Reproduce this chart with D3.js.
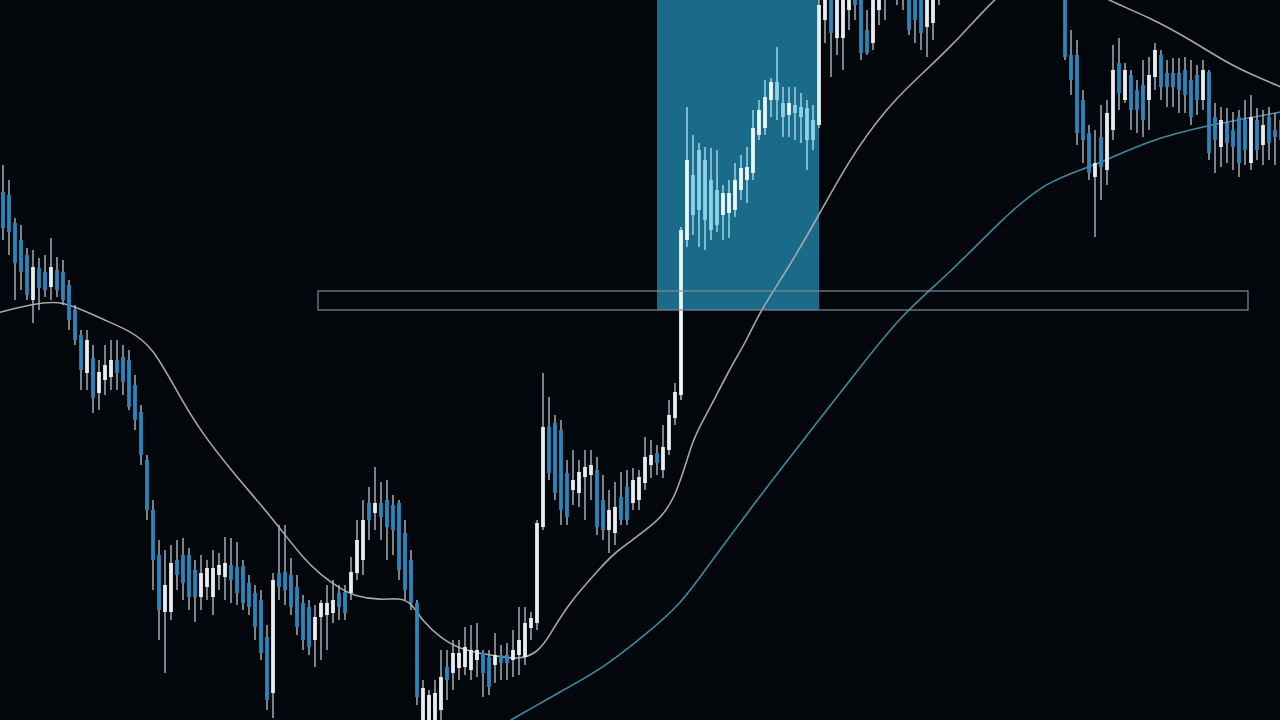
<!DOCTYPE html>
<html>
<head>
<meta charset="utf-8">
<script src="https://cdn.jsdelivr.net/npm/d3@7"></script>
<style>
  html, body { margin: 0; padding: 0; background: #03070b; overflow: hidden; }
  svg { display: block; }
</style>
</head>
<body>
<svg id="chart" width="1280" height="720"></svg>
<script>
// ---- Data (prices) ----
const opens = [
  808,805,777,760,745,700,732,728,713,730,
  728,715,690,665,627,642,607,620,623,640,
  643,640,615,588,540,490,445,388,388,440,
  445,445,430,403,413,403,425,423,435,433,
  434,417,407,400,363,307,427,428,425,413,
  397,393,360,383,385,387,407,408,407,427,
  440,497,487,497,500,495,497,467,440,397,
  275,270,280,290,333,327,332,333,330,340,
  347,343,335,345,345,340,345,343,372,377,
  473,573,577,570,527,510,507,523,525,530,
  500,470,467,503,513,497,500,517,535,547,
  530,550,582,605,760,825,850,840,820,810,
  785,787,790,810,820,827,865,872,900,918,
  897,885,895,893,892,880,875,980,1010,962,
  962,990,1020,1010,970,957,990,1030,1020,1040,
  1015,1005,1000,1000,973,977,1005,1015,1040,1060,
  1055,1085,1100,1095,1110,1080,1070,1085,1060,1045,
  1060,1050,1035,1050,1045,1030,1045,1020,945,945,
  900,867,823,863,830,870,937,900,925,910,
  915,900,923,945,927,927,927,930,920,925,
  900,928,883,853,877,870,883,880,837,880,
  855,883,870,880
];
const highs = [
  835,820,782,775,752,750,742,745,762,743,
  740,720,695,670,670,655,640,655,660,660,
  655,650,625,595,545,500,460,450,455,460,
  462,452,440,445,440,450,447,463,462,458,
  440,425,415,410,375,427,475,475,442,425,
  405,400,395,400,415,420,415,415,443,480,
  500,513,533,518,520,505,500,480,450,400,
  320,310,320,350,350,360,360,373,375,377,
  350,350,367,355,357,370,393,393,388,480,
  627,603,585,580,540,550,540,550,550,543,
  525,510,518,528,530,532,530,563,560,555,
  575,600,617,773,893,865,857,853,852,850,
  815,820,837,845,853,890,900,920,922,953,
  913,913,913,907,900,895,1000,1010,1020,1015,
  1010,1040,1030,1020,990,1010,1030,1040,1060,1050,
  1050,1015,1010,1010,1010,1020,1040,1055,1080,1075,
  1100,1120,1115,1130,1125,1095,1105,1100,1070,1080,
  1075,1060,1065,1060,1055,1060,1055,1030,970,960,
  910,875,870,895,900,955,962,937,930,920,
  940,943,957,950,940,942,942,943,940,935,
  940,930,897,893,892,888,890,900,905,892,
  890,893,887,890
];
const lows = [
  760,745,700,710,700,677,690,703,700,703,
  695,670,655,610,610,587,590,605,610,610,
  605,590,570,535,480,410,360,327,380,410,
  400,390,378,390,400,385,410,400,397,395,
  390,385,360,340,290,282,400,395,385,365,
  350,345,333,340,350,377,380,380,400,420,
  425,460,470,460,440,445,420,400,390,295,
  265,260,270,280,300,310,320,325,320,323,
  303,305,317,320,320,323,325,335,360,370,
  470,520,500,475,475,495,493,480,500,465,
  460,447,455,475,475,490,490,510,522,525,
  522,545,575,600,753,765,753,750,760,768,
  760,762,783,800,797,820,860,865,883,880,
  863,863,860,857,830,850,872,957,923,945,
  930,970,980,940,945,950,975,980,1005,995,
  990,965,957,950,943,960,995,1005,1030,1020,
  1045,1075,1060,1085,1070,1040,1060,1045,1025,1035,
  1030,1020,1025,1020,1015,1022,1015,940,905,855,
  837,820,763,800,815,860,890,897,870,867,
  863,870,910,900,893,893,887,887,875,885,
  890,840,827,833,837,830,823,835,830,840,
  835,840,835,840
];
const closes = [
  772,768,737,728,705,733,712,710,733,710,
  700,680,660,630,660,602,628,635,640,627,
  618,593,580,545,490,440,390,415,437,425,
  417,403,403,427,432,432,435,437,420,407,
  397,393,373,347,300,420,413,410,393,373,
  360,353,383,397,397,400,393,387,428,460,
  480,480,497,483,473,470,430,410,397,303,
  312,305,307,323,320,347,347,353,350,350,
  327,313,345,337,337,350,360,377,382,477,
  573,527,507,490,483,520,528,533,535,473,
  470,490,493,480,480,520,523,543,545,537,
  553,585,608,770,840,785,790,780,770,775,
  807,807,820,832,833,872,890,903,918,900,
  883,897,887,883,860,860,995,1000,967,1000,
  1000,1030,995,947,947,1000,1020,1005,1050,1010,
  1040,970,980,967,1000,1010,1030,1040,1070,1030,
  1090,1110,1070,1120,1080,1050,1095,1055,1035,1070,
  1040,1030,1055,1030,1025,1050,1025,943,920,867,
  860,827,837,833,887,930,907,930,890,890,
  880,925,950,913,913,913,910,905,883,900,
  930,847,860,880,857,853,837,850,883,850,
  875,857,863,860
];

// Moving averages (bar index, value)
const fastMaIdx = [-1,5,10,16,21,25,29,33,38,43,46,50,53,56,59,63,66,68,70,73,76,81,86,89,91,94,100,102,108,112,115,117,121,124,126,131,136,141,147,152,158,165,170,175,180,184,191,198,204,209,213];
const fastMa    = [687,696,700,682,670,653,608,568,530,495,473,442,425,412,403,400,402,398,378,362,351,345,340,347,363,395,435,448,473,497,563,582,630,660,687,733,785,840,890,920,953,1000,1025,1030,1015,1000,983,960,937,923,913];
const slowMaIdx = [80,84,87,94,100,107,113,117,126,136,143,150,158,166,174,182,191,201,213];
const slowMa    = [260,278,288,312,332,365,396,430,503,580,634,687,728,778,820,834,860,875,888];

// Highlighted range (bar indices) and price zone
const highlightRange = [109, 136];
const highlightPriceLow = 690;
const zoneRange = [52.5, 207.5];
const zonePrices = [690, 709];

// ---- Drawing ----
const W = 1280, H = 720;
const N = opens.length;
const step = 6;
const svg = d3.select('#chart');

const x = d3.scaleLinear().domain([-0.5, N - 0.5]).range([0, N * step]);
const y = d3.scaleLinear().domain([280, 1000]).range([H, 0]);

svg.append('rect').attr('width', W).attr('height', H).attr('fill', '#03070b');

// highlight block
svg.append('rect')
  .attr('x', x(highlightRange[0]))
  .attr('y', y(1200))
  .attr('width', x(highlightRange[1]) - x(highlightRange[0]))
  .attr('height', y(highlightPriceLow) - y(1200))
  .attr('fill', '#1a6a8a');

// moving averages
const lineGen = d3.line().x(d => x(d[0])).y(d => y(d[1])).curve(d3.curveBasis);
svg.append('path')
  .datum(slowMaIdx.map((d, i) => [d, slowMa[i]]))
  .attr('d', lineGen).attr('fill', 'none')
  .attr('stroke', '#3d8aa6').attr('stroke-width', 1.6);
svg.append('path')
  .datum(fastMaIdx.map((d, i) => [d, fastMa[i]]))
  .attr('d', lineGen).attr('fill', 'none')
  .attr('stroke', '#a3a9ab').attr('stroke-width', 1.6);

// candles
const candles = opens.map((o, i) => ({ i, o, h: highs[i], l: lows[i], c: closes[i] }));
const inHL = d => d.i >= highlightRange[0] + 1 && d.i < highlightRange[1] && d.h > highlightPriceLow;
const g = svg.append('g');
g.selectAll('line.wick').data(candles).join('line')
  .attr('class', 'wick')
  .attr('x1', d => x(d.i)).attr('x2', d => x(d.i))
  .attr('y1', d => y(d.h)).attr('y2', d => y(d.l))
  .attr('stroke', d => inHL(d) ? '#a6dcee' : '#aeb8be')
  .attr('stroke-width', 1.4);
const bw = 3.8;
g.selectAll('rect.body').data(candles).join('rect')
  .attr('class', 'body')
  .attr('x', d => x(d.i) - bw / 2)
  .attr('width', bw)
  .attr('y', d => y(Math.max(d.o, d.c)))
  .attr('height', d => Math.max(1.5, Math.abs(y(d.o) - y(d.c))))
  .attr('fill', d => {
    const up = d.c >= d.o;
    if (inHL(d)) return up ? '#eaf7fc' : '#8fd3ea';
    return up ? '#e8edf0' : '#2987bd';
  });

// price zone box (outline only)
svg.append('rect')
  .attr('x', x(zoneRange[0]))
  .attr('y', y(zonePrices[1]))
  .attr('width', x(zoneRange[1]) - x(zoneRange[0]))
  .attr('height', y(zonePrices[0]) - y(zonePrices[1]))
  .attr('fill', 'none')
  .attr('stroke', '#7f8c93').attr('stroke-width', 1.2);
</script>
</body>
</html>
